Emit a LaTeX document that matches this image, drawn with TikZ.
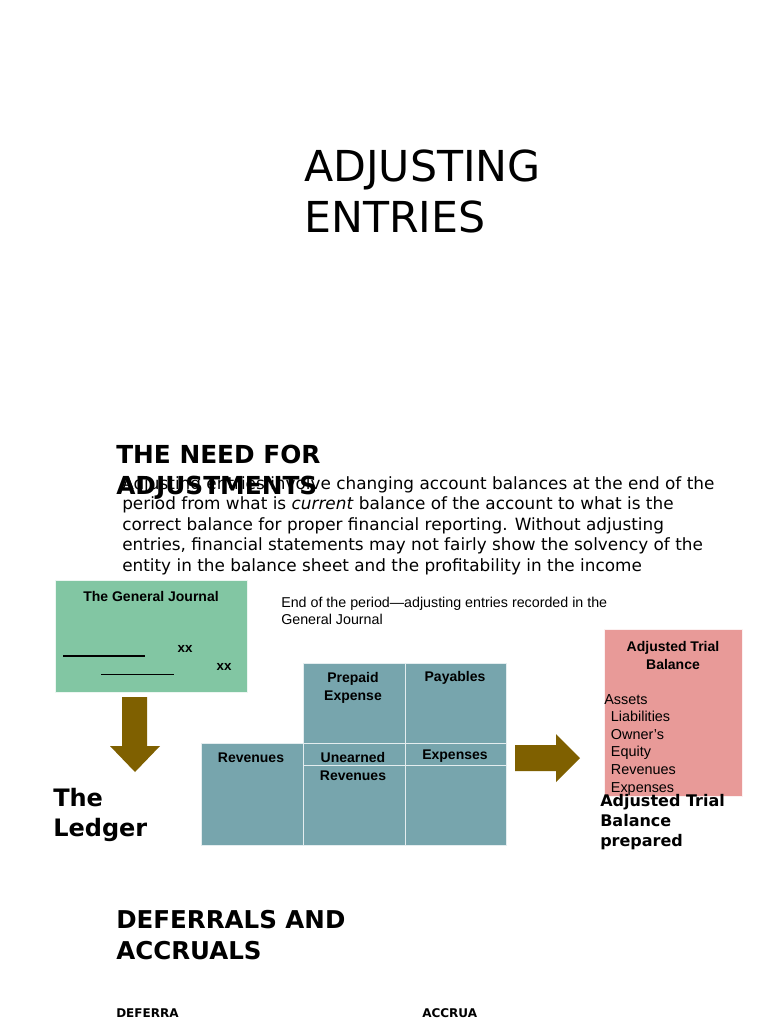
\documentclass[tikz,border=0pt]{standalone}
\usepackage{fontspec}
\setmainfont{DejaVu Sans}
\newfontfamily\narrow{Liberation Sans}
\definecolor{jgreen}{HTML}{82C6A3}
\definecolor{teal}{HTML}{77A5AD}
\definecolor{olive}{HTML}{7F6000}
\definecolor{pink}{HTML}{E89A98}
\begin{document}
\begin{tikzpicture}[x=0.75pt,y=-0.75pt,
  txt/.style={inner sep=0pt,anchor=west,align=left},
  cell/.style={fill=teal,draw=white,line width=0.8pt},
  bigarrow/.style={fill=olive,draw=none}]
\useasboundingbox (0,0) rectangle (768,1024);
\fill[white] (0,0) rectangle (768,1024);
% title
\node[txt,anchor=north west,font=\fontsize{32}{38}\selectfont] (title) at (304,150) {ADJUSTING\\ENTRIES};
% paragraph
\node[txt,anchor=north west,font=\fontsize{12.65}{15.4}\selectfont] (para) at (122,476)
 {Adjusting entries involve changing account balances at the end of the\\period from what is \emph{current} balance of the account to what is the\\correct balance for proper financial reporting. Without adjusting\\entries, financial statements may not fairly show the solvency of the\\entity in the balance sheet and the profitability in the income};
\node[txt,anchor=north west,font=\fontsize{18.6}{23}\selectfont\bfseries] (need) at (116,445) {THE NEED FOR\\ADJUSTMENTS};
% journal
\node[fill=jgreen,draw=white!85!jgreen,minimum width=144pt,minimum height=84pt,anchor=north west,inner sep=0pt] (gj) at (55,580) {};
\node[font=\narrow\fontsize{10.5}{12}\selectfont\bfseries,inner sep=0pt] (gjt) at (151,596) {The General Journal};
\draw[line width=1pt] (63,656) -- (145,656);
\draw[line width=0.7pt] (101,674) -- (174,674);
\node[font=\narrow\fontsize{10}{12}\selectfont\bfseries,inner sep=0pt] (x1) at (185,649) {xx};
\node[font=\narrow\fontsize{10}{12}\selectfont\bfseries,inner sep=0pt] (x2) at (224,667) {xx};
% down arrow
\fill[bigarrow] (122,697) -- (147,697) -- (147,746) -- (160,746) -- (135,772) -- (110,746) -- (122,746) -- cycle;
\node[txt,anchor=north west,font=\fontsize{18}{22.5}\selectfont\bfseries] (ledger) at (53,788) {The\\Ledger};
% end of period
\node[txt,anchor=north west,font=\narrow\fontsize{10.7}{12.8}\selectfont] (eop) at (281,597) {End of the period—adjusting entries recorded in the\\General Journal};
% grid
\fill[teal] (303,663) rectangle (506,743);
\fill[teal] (201,743) rectangle (506,845);
\draw[white!80!teal,line width=0.6pt] (303,663) -- (506,663) -- (506,845) -- (201,845) -- (201,743) -- (506,743);
\draw[white!80!teal,line width=0.6pt] (303,663) -- (303,845) (405,663) -- (405,845) (303,765) -- (506,765);
\tikzset{cl/.style={font=\narrow\fontsize{10.5}{13.5}\selectfont\bfseries,inner sep=0pt,align=center}}
\node[cl] (pe) at (353,688) {Prepaid\\Expense};
\node[cl] (pay) at (455,678) {Payables};
\node[cl] (rev) at (251,758) {Revenues};
\node[cl] (unr) at (353,766) {Unearned\\Revenues};
\node[cl] (exp) at (455,756) {Expenses};
% right arrow
\fill[bigarrow] (515,745) -- (556,745) -- (556,734) -- (580,758) -- (556,782) -- (556,771) -- (515,771) -- cycle;
% pink
\node[fill=pink,draw=white!85!pink,minimum width=103.5pt,minimum height=125pt,anchor=north west,inner sep=0pt] (atb) at (604,629) {};
\node[cl] (atbt) at (673,655) {Adjusted Trial\\Balance};
\node[txt,anchor=north west,font=\narrow\fontsize{10.8}{13.2}\selectfont] (list) at (604,694)
 {Assets\\\hspace*{5pt}Liabilities\\\hspace*{5pt}Owner’s\\\hspace*{5pt}Equity\\\hspace*{5pt}Revenues\\\hspace*{5pt}Expenses};
\node[txt,anchor=north west,font=\fontsize{12}{15}\selectfont\bfseries] (atbp) at (600,794) {Adjusted Trial\\Balance\\prepared};
% deferrals
\node[txt,anchor=north west,font=\fontsize{18.4}{23}\selectfont\bfseries] (def) at (116,910) {DEFERRALS AND\\ACCRUALS};
\node[txt,font=\fontsize{9}{11}\selectfont\bfseries] (d1) at (116,1013) {DEFERRA};
\node[txt,font=\fontsize{9}{11}\selectfont\bfseries] (a1) at (422,1013) {ACCRUA};
\end{tikzpicture}
\end{document}
